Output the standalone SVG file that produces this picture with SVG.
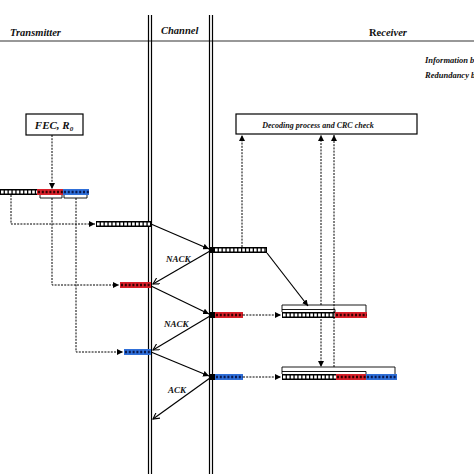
<svg xmlns="http://www.w3.org/2000/svg" width="474" height="474" viewBox="0 0 474 474">
<defs>
<marker id="ah" viewBox="0 0 10 10" refX="10" refY="5" markerWidth="6" markerHeight="6" markerUnits="userSpaceOnUse" orient="auto">
<path d="M0,0 L10,5 L0,10 z" fill="#000"/>
</marker>
<marker id="oa" viewBox="0 0 10 10" refX="9" refY="5" markerWidth="7" markerHeight="7" markerUnits="userSpaceOnUse" orient="auto">
<path d="M0,0 L9,5 L0,10" fill="none" stroke="#000" stroke-width="1.6"/>
</marker>
</defs>
<style>
.t{font-family:"Liberation Serif",serif;font-style:italic;font-weight:bold;fill:#111}
.ln{stroke:#000;stroke-width:1.2;fill:none}
.ds{stroke:#000;stroke-width:1;fill:none;stroke-dasharray:2 1.2}
.bk{fill:#000}
.rd{fill:#d8202a}
.bl{fill:#2f6fd8}
.wc{stroke:#fff;stroke-width:3;stroke-dasharray:2.6 1.3}
.dc{stroke:#300;stroke-width:2.4;stroke-dasharray:2 1.8}
.bc{stroke:#0a1a50;stroke-width:2.4;stroke-dasharray:2 1.8}
.br{stroke:#000;stroke-width:0.9;fill:none}
</style>
<rect width="474" height="474" fill="#fff"/>

<g id="header">
<line x1="0" y1="41" x2="474" y2="41" stroke="#333" stroke-width="1.2"/>
<text class="t" x="10" y="36" font-size="10.5">Transmitter</text>
<text class="t" x="161" y="34" font-size="10.5">Channel</text>
<text class="t" x="369" y="36" font-size="10.5"><tspan font-style="normal">Re</tspan>ceiver</text>
<text class="t" x="425" y="63" font-size="8.5">Information b</text>
<text class="t" x="425" y="78" font-size="8.5">Redundancy b</text>
</g>

<g id="channel">
<line x1="148.5" y1="15" x2="148.5" y2="474" class="ln"/>
<line x1="151.5" y1="15" x2="151.5" y2="474" class="ln"/>
<line x1="209.5" y1="15" x2="209.5" y2="474" class="ln"/>
<line x1="212.5" y1="15" x2="212.5" y2="474" class="ln"/>
</g>

<g id="fec">
<rect x="26" y="114" width="57" height="21" fill="#fff" stroke="#000" stroke-width="1.2"/>
<text class="t" x="54" y="129" font-size="11" text-anchor="middle" font-weight="normal">FEC, R<tspan font-size="7" dy="2">0</tspan></text>
</g>

<g id="decoder">
<rect x="236" y="114" width="181" height="20" fill="#fff" stroke="#000" stroke-width="1.2"/>
<text class="t" x="318" y="128" font-size="8" text-anchor="middle" font-weight="normal">Decoding  process  and CRC check</text>
</g>

<g id="codeword">
<rect x="0" y="189" width="37" height="6" class="bk"/>
<line x1="1" y1="192" x2="37" y2="192" class="wc"/>
<rect x="37" y="189" width="26" height="6" class="rd"/>
<line x1="38" y1="192" x2="63" y2="192" class="dc"/>
<rect x="63" y="189" width="26" height="6" class="bl"/>
<line x1="64" y1="192" x2="89" y2="192" class="bc"/>
<path d="M40,195 V198 H62 V195" class="br"/>
<path d="M64,195 V198 H87 V195" class="br"/>
</g>

<g id="tx1">
<rect x="96" y="221" width="55" height="6" class="bk"/>
<line x1="97" y1="224" x2="150" y2="224" class="wc"/>
</g>
<g id="tx2">
<rect x="120" y="282" width="31" height="6" class="rd"/>
<line x1="121" y1="285" x2="150" y2="285" class="dc"/>
</g>
<g id="tx3">
<rect x="124" y="349" width="27" height="6" class="bl"/>
<line x1="125" y1="352" x2="150" y2="352" class="bc"/>
</g>

<g id="rx1">
<rect x="209" y="247" width="58" height="6" class="bk"/>
<line x1="215" y1="250" x2="266" y2="250" class="wc"/>
</g>
<g id="rx2">
<rect x="209" y="312" width="6" height="6" class="bk"/>
<rect x="215" y="312" width="28" height="6" class="rd"/>
<line x1="216" y1="315" x2="243" y2="315" class="dc"/>
</g>
<g id="rx3">
<rect x="209" y="374" width="6" height="6" class="bk"/>
<rect x="215" y="374" width="28" height="6" class="bl"/>
<line x1="216" y1="377" x2="243" y2="377" class="bc"/>
</g>

<g id="buffer1">
<rect x="282" y="312" width="53" height="6" class="bk"/>
<line x1="283" y1="315" x2="335" y2="315" class="wc"/>
<rect x="335" y="312" width="32" height="6" class="rd"/>
<line x1="336" y1="315" x2="367" y2="315" class="dc"/>
<path d="M282,312 V305 H366 V312" class="br"/>
<path d="M282,309.5 H335 V312" class="br"/>
</g>

<g id="buffer2">
<rect x="282" y="374" width="54" height="6" class="bk"/>
<line x1="283" y1="377" x2="336" y2="377" class="wc"/>
<rect x="336" y="374" width="30" height="6" class="rd"/>
<line x1="337" y1="377" x2="366" y2="377" class="dc"/>
<rect x="366" y="374" width="31" height="6" class="bl"/>
<line x1="367" y1="377" x2="397" y2="377" class="bc"/>
<path d="M282,374 V367 H395 V374" class="br"/>
<path d="M282,371.5 H366 V374" class="br"/>
</g>

<g id="connectors">
<line x1="52" y1="135" x2="52" y2="189" class="ds" marker-end="url(#ah)"/>
<path d="M11,195 V224 H95" class="ds" marker-end="url(#ah)"/>
<path d="M52,198 V285 H119" class="ds" marker-end="url(#ah)"/>
<path d="M76,198 V352 H123" class="ds" marker-end="url(#ah)"/>

<line x1="151" y1="224" x2="209" y2="249" class="ln" marker-end="url(#ah)"/>
<line x1="151" y1="286" x2="209" y2="314" class="ln" marker-end="url(#ah)"/>
<line x1="151" y1="352" x2="209" y2="376" class="ln" marker-end="url(#ah)"/>

<line x1="210" y1="251" x2="153" y2="284" class="ln" marker-end="url(#oa)"/>
<line x1="210" y1="316" x2="153" y2="350" class="ln" marker-end="url(#oa)"/>
<line x1="210" y1="378" x2="153" y2="419" class="ln" marker-end="url(#oa)"/>

<line x1="267" y1="253" x2="308" y2="306" class="ln" marker-end="url(#ah)"/>
<line x1="243" y1="315" x2="281" y2="315" class="ds" marker-end="url(#ah)"/>
<line x1="243" y1="377" x2="281" y2="377" class="ds" marker-end="url(#ah)"/>

<line x1="242" y1="247" x2="242" y2="135" class="ds" marker-end="url(#ah)"/>
<line x1="321" y1="305" x2="321" y2="135" class="ds" marker-end="url(#ah)"/>
<line x1="334" y1="367" x2="334" y2="135" class="ds" marker-end="url(#ah)"/>
<line x1="321" y1="319" x2="321" y2="367" class="ds" marker-end="url(#ah)"/>
</g>

<g id="labels">
<text class="t" x="166" y="262" font-size="9" font-weight="normal">NACK</text>
<text class="t" x="164" y="327" font-size="9" font-weight="normal">NACK</text>
<text class="t" x="168" y="393" font-size="9" font-weight="normal">ACK</text>
</g>
</svg>
